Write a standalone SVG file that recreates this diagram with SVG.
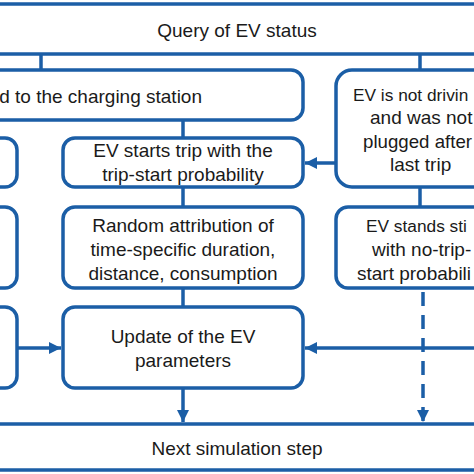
<svg xmlns="http://www.w3.org/2000/svg" width="474" height="474" viewBox="0 0 474 474">
<style>
.box{fill:#ffffff;stroke:#1b5ea6;stroke-width:3.5}
.c{fill:none;stroke:#1b5ea6;stroke-width:3.5}
.d{stroke-dasharray:14 9}
text{font-family:"Liberation Sans",Arial,sans-serif;font-size:19px;fill:#1a1a1a}
.m{text-anchor:middle}
.s{font-size:17.3px}
</style>
<defs>
<marker id="ah" markerUnits="userSpaceOnUse" markerWidth="13" markerHeight="13" refX="12" refY="6.5" orient="auto">
<path d="M0,0.5 L12,6.5 L0,12.5 Z" fill="#1b5ea6"/>
</marker>
</defs>
<rect width="474" height="474" fill="#ffffff"/>
<g id="connectors">
<line class="c" x1="41" y1="54" x2="41" y2="70"/>
<line class="c" x1="420" y1="54" x2="420" y2="70"/>
<line class="c" x1="183" y1="120" x2="183" y2="138"/>
<line class="c" x1="183" y1="187" x2="183" y2="207"/>
<line class="c" x1="183" y1="288" x2="183" y2="307"/>
<line class="c" x1="183" y1="388" x2="183" y2="422" marker-end="url(#ah)"/>
<line class="c" x1="420" y1="187" x2="420" y2="207"/>
<line class="c d" x1="423" y1="292" x2="423" y2="422" marker-end="url(#ah)"/>
<line class="c" x1="336" y1="163" x2="305" y2="163" marker-end="url(#ah)"/>
<line class="c" x1="17" y1="348" x2="61" y2="348" marker-end="url(#ah)"/>
<line class="c" x1="490" y1="348" x2="305" y2="348" marker-end="url(#ah)"/>
</g>
<g id="query">
<rect class="box" x="-10" y="4" width="494" height="50"/>
<text class="m" x="237" y="37">Query of EV status</text>
</g>
<g id="plugged">
<rect class="box" x="-200" y="70" width="503" height="50" rx="12"/>
<text x="202" y="103" text-anchor="end">d to the charging station</text>
</g>
<g id="left1"><rect class="box" x="-100" y="138" width="117" height="49" rx="12"/></g>
<g id="left2"><rect class="box" x="-100" y="207" width="117" height="81" rx="12"/></g>
<g id="left3"><rect class="box" x="-100" y="307" width="117" height="81" rx="12"/></g>
<g id="tripstart">
<rect class="box" x="63" y="138" width="240" height="49" rx="12"/>
<text class="m" x="183" y="157">EV starts trip with the</text>
<text class="m" x="183" y="181">trip-start probability</text>
</g>
<g id="random">
<rect class="box" x="63" y="207" width="240" height="81" rx="12"/>
<text class="m" x="183" y="232">Random attribution of</text>
<text class="m" x="183" y="256">time-specific duration,</text>
<text class="m" x="183" y="280">distance, consumption</text>
</g>
<g id="update">
<rect class="box" x="63" y="307" width="240" height="81" rx="12"/>
<text class="m" x="183" y="343">Update of the EV</text>
<text class="m" x="183" y="367">parameters</text>
</g>
<g id="notdriving">
<rect class="box" x="336" y="70" width="240" height="117" rx="16"/>
<text class="s" x="353" y="101">EV is not drivin</text>
<text x="370" y="124">and was not</text>
<text x="363" y="148" textLength="109" lengthAdjust="spacingAndGlyphs">plugged after</text>
<text x="390" y="171">last trip</text>
</g>
<g id="standsstill">
<rect class="box" x="336" y="207" width="240" height="81" rx="12"/>
<text class="s" x="366" y="232">EV stands sti</text>
<text x="372" y="256">with no-trip-</text>
<text x="357" y="280">start probabili</text>
</g>
<g id="next">
<rect class="box" x="-10" y="424" width="494" height="46"/>
<text class="m" x="237" y="455">Next simulation step</text>
</g>
</svg>
